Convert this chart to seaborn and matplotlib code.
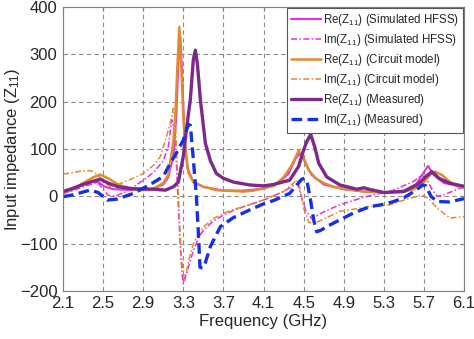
import numpy as np
import pandas as pd
import matplotlib
matplotlib.use("Agg")
import matplotlib.pyplot as plt
import seaborn as sns

# ---- data ----
f_re_hfss = [2.1, 2.2, 2.3, 2.4, 2.45, 2.52, 2.6, 2.8, 3.0, 3.1, 3.15, 3.2, 3.23, 3.25, 3.27, 3.29, 3.31,
             3.34, 3.4, 3.5, 3.7, 3.9, 4.1, 4.25, 4.35, 4.42, 4.46, 4.5, 4.58, 4.7, 4.9, 5.1, 5.3, 5.5,
             5.62, 5.68, 5.74, 5.8, 5.9, 6.0, 6.1]
v_re_hfss = [8, 15, 25, 31, 30, 20, 15, 13, 16, 25, 40, 85, 170, 280, 338, 250, 130,
             60, 30, 20, 12, 12, 16, 28, 48, 80, 90, 78, 45, 25, 15, 10, 8, 12,
             25, 45, 64, 45, 28, 24, 22]

f_im_hfss = [2.1, 2.2, 2.3, 2.4, 2.45, 2.5, 2.55, 2.62, 2.75, 2.9, 3.0, 3.1, 3.15, 3.185, 3.21, 3.23, 3.25,
             3.27, 3.29, 3.30, 3.32, 3.35, 3.4, 3.45, 3.5, 3.6, 3.7, 3.8, 3.9, 4.1, 4.3, 4.41, 4.44,
             4.47, 4.52, 4.58, 4.7, 4.86, 5.1, 5.4, 5.6, 5.68, 5.73, 5.78, 5.83, 5.9, 6.0, 6.1]
v_im_hfss = [5, 12, 20, 27, 28, 15, 2, 0, 12, 34, 50, 75, 105, 162, 140, 70, -20,
             -110, -170, -185, -172, -150, -115, -88, -72, -52, -40, -30, -22, -8, 10, 24, 26,
             5, -30, -47, -33, -18, -2, 13, 32, 45, 35, 15, 0, 3, 12, 20]

f_re_circ = [2.1, 2.2, 2.3, 2.4, 2.47, 2.55, 2.65, 2.8, 2.95, 3.0, 3.1, 3.15, 3.2, 3.22, 3.24, 3.26,
             3.28, 3.3, 3.32, 3.35, 3.4, 3.5, 3.63, 3.9, 4.0, 4.2, 4.3, 4.38, 4.45, 4.5, 4.55, 4.62,
             4.7, 4.8, 4.9, 5.1, 5.3, 5.5, 5.6, 5.7, 5.76, 5.81, 5.88, 5.95, 6.02, 6.1]
v_re_circ = [6, 15, 28, 40, 46, 38, 25, 14, 13, 16, 28, 45, 115, 170, 270, 358,
             270, 170, 100, 50, 30, 20, 13, 10, 12, 22, 40, 65, 96, 82, 55, 38,
             28, 20, 16, 10, 8, 10, 15, 30, 45, 52, 45, 32, 22, 18]

f_im_circ = [2.1, 2.2, 2.3, 2.38, 2.45, 2.52, 2.57, 2.64, 2.8, 2.9, 3.0, 3.07, 3.12, 3.17, 3.2, 3.22,
             3.24, 3.26, 3.28, 3.31, 3.33, 3.36, 3.4, 3.45, 3.5, 3.6, 3.7, 3.8, 3.9, 4.1, 4.3, 4.4,
             4.43, 4.46, 4.5, 4.55, 4.6, 4.7, 4.86, 5.16, 5.36, 5.5, 5.68, 5.75, 5.83, 5.96, 6.1]
v_im_circ = [47, 50, 54, 54, 45, 28, 20, 24, 38, 48, 65, 84, 118, 154, 186, 160,
             60, -40, -130, -175, -160, -130, -100, -80, -65, -47, -36, -28, -22, -8, 10, 28,
             35, 20, -25, -55, -58, -48, -32, -22, -18, -8, 3, -5, -25, -46, -43]

f_re_meas = [2.1, 2.2, 2.3, 2.4, 2.47, 2.55, 2.65, 2.8, 3.0, 3.12, 3.2, 3.25, 3.3, 3.33, 3.37, 3.40,
             3.42, 3.44, 3.47, 3.52, 3.57, 3.63, 3.7, 3.8, 3.96, 4.1, 4.2, 4.36, 4.45, 4.5, 4.53,
             4.57, 4.61, 4.65, 4.73, 4.86, 5.03, 5.1, 5.15, 5.3, 5.5, 5.65, 5.72, 5.78, 5.85, 5.95,
             6.1]
v_re_meas = [10, 17, 25, 32, 36, 28, 20, 16, 15, 13, 20, 30, 85, 140, 205, 290,
             309, 280, 204, 112, 75, 48, 38, 30, 24, 22, 25, 34, 63, 98, 115,
             131, 105, 70, 41, 24, 15, 18, 15, 8, 10, 27, 42, 52, 38, 28,
             21]

f_im_meas = [2.1, 2.2, 2.3, 2.37, 2.45, 2.54, 2.64, 2.8, 2.97, 3.1, 3.17, 3.24, 3.3, 3.35, 3.37,
             3.4, 3.43, 3.45, 3.466, 3.49, 3.52, 3.57, 3.67, 3.8, 3.96, 4.1, 4.2, 4.36, 4.48, 4.51,
             4.54, 4.57, 4.6, 4.63, 4.67, 4.75, 4.86, 5.0, 5.16, 5.3, 5.4, 5.5, 5.6, 5.69, 5.72,
             5.77, 5.83, 5.95, 6.1]
v_im_meas = [-1, 3, 9, 13, 8, -8, -6, 6, 25, 42, 70, 95, 119, 152, 150,
             77, 0, -78, -150, -152, -140, -106, -64, -45, -29, -16, -9, 6, 36, 38,
             25, -10, -50, -75, -72, -62, -50, -35, -22, -17, -11, -3, 10, 24, 22,
             0, -11, -12, -5]

x_ticks = [2.1, 2.5, 2.9, 3.3, 3.7, 4.1, 4.5, 4.9, 5.3, 5.7, 6.1]
y_ticks = [-200, -100, 0, 100, 200, 300, 400]

labels = ["Re(Z$_{11}$) (Simulated HFSS)", "Im(Z$_{11}$) (Simulated HFSS)",
          "Re(Z$_{11}$) (Circuit model)", "Im(Z$_{11}$) (Circuit model)",
          "Re(Z$_{11}$) (Measured)", "Im(Z$_{11}$) (Measured)"]

# ---- styling ----
sns.set_style("white")
plt.rcParams['font.family'] = ['Liberation Sans', 'DejaVu Sans']
plt.rcParams['mathtext.default'] = 'regular'

magenta = '#E62EE6'
orange = '#E28A2C'
purple = '#7B2A8C'
blue = '#1530E6'

series = [
    (f_re_hfss, v_re_hfss, magenta, 1.5, None),
    (f_im_hfss, v_im_hfss, magenta, 1.1, (0, (4, 1.5, 1, 1.5))),
    (f_re_circ, v_re_circ, orange, 1.8, None),
    (f_im_circ, v_im_circ, orange, 1.1, (0, (4, 1.5, 1, 1.5))),
    (f_re_meas, v_re_meas, purple, 2.4, None),
    (f_im_meas, v_im_meas, blue, 2.4, (0, (3.2, 1.6))),
]

fig = plt.figure(figsize=(4.74, 3.39), dpi=100)
ax = fig.add_axes([0.133, 0.142, 0.846, 0.837])

for (fx, vy, col, lw, ls), lab in zip(series, labels):
    df = pd.DataFrame({"f": fx, "v": vy})
    sns.lineplot(data=df, x="f", y="v", ax=ax, color=col, lw=lw, label=lab,
                 sort=False, estimator=None)
    line = ax.get_lines()[-1]
    if ls is not None:
        line.set_linestyle(ls)

ax.set_xlim(2.1, 6.1)
ax.set_ylim(-200, 400)
ax.set_xticks(x_ticks)
ax.set_xticklabels([f"{t:g}" for t in x_ticks])
ax.set_yticks(y_ticks)
ax.grid(True, color='#8a8a8a', linestyle=(0, (4, 3)), linewidth=0.8)
ax.tick_params(axis='both', which='both', direction='in', length=3, labelsize=12,
               colors='#7f7f7f', labelcolor='#262626', top=True, right=True, pad=4)
for sp in ax.spines.values():
    sp.set_color('#7f7f7f')
    sp.set_linewidth(0.8)

ax.set_xlabel("Frequency (GHz)", fontsize=12, color='#262626', labelpad=2)
ax.set_ylabel("Input impedance (Z$_{11}$)", fontsize=12, color='#262626')
ax.yaxis.set_label_coords(-0.103, 0.5)

leg = ax.legend(loc='upper right', fontsize=8.3, frameon=True, fancybox=False,
                borderaxespad=0.1, handlelength=2.6, handletextpad=0.12,
                labelspacing=0.35, borderpad=0.35, framealpha=1)
leg.get_frame().set_edgecolor('#555555')
leg.get_frame().set_linewidth(0.8)

fig.savefig("out.png", dpi=100)
